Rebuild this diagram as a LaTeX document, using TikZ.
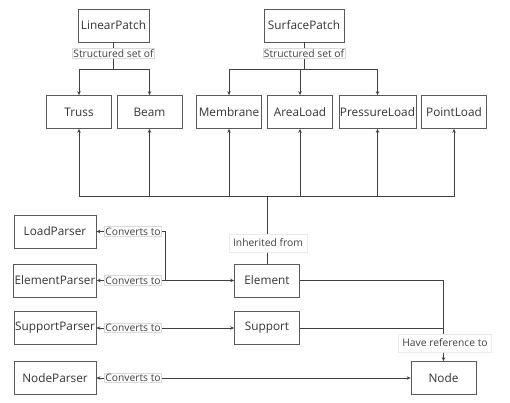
\documentclass[tikz,border=0pt]{standalone}
\usepackage{fontspec}
\setmainfont{Open Sans}
\usetikzlibrary{arrows.meta}

\tikzset{
  cls/.style={draw=black!65,text=black!80,minimum width=65,minimum height=33,
    inner sep=1pt,font=\fontsize{11.8}{13}\selectfont},
  lbl/.style={draw=black!15,fill=white,text=black!75,inner sep=1pt,
    font=\fontsize{10.3}{12}\selectfont},
  lblwide/.style={lbl,draw=black!8,inner xsep=4pt,inner ysep=5pt}
}

\begin{document}
\begin{tikzpicture}[x=1pt,y=-1pt,line width=0.7pt,draw=black!75,
  >={Stealth[length=4pt,width=3.5pt]}]
\useasboundingbox (0,0) rectangle (510,403);

% patches
\node[cls,minimum width=71] (linpatch) at (113.5,25.5) {LinearPatch};
\node[cls,minimum width=80] (surfpatch) at (304,25.5) {SurfacePatch};

% element types
\node[cls] (truss) at (79,112) {Truss};
\node[cls] (beam) at (149.5,112) {Beam};
\node[cls] (membrane) at (229,112) {Membrane};
\node[cls] (areaload) at (300,112) {AreaLoad};
\node[cls,minimum width=77] (pressload) at (377.5,112) {PressureLoad};
\node[cls] (pointload) at (454,112) {PointLoad};

% model classes
\node[cls] (element) at (267,280.5) {Element};
\node[cls] (support) at (267,328) {Support};
\node[cls] (node) at (443.5,378) {Node};

% parsers
\node[cls,minimum width=82] (loadparser) at (55,231.5) {LoadParser};
\node[cls,minimum width=82] (elemparser) at (55,280.5) {ElementParser};
\node[cls,minimum width=82] (suppparser) at (55,328) {SupportParser};
\node[cls,minimum width=82] (nodeparser) at (55,378) {NodeParser};

\coordinate (lpfork) at (113.5,69);
\coordinate (spfork) at (304,69);
\coordinate (inhfork) at (267,196);
\coordinate (loadbend) at (165,280.5);

% structured sets
\draw (linpatch) -- (lpfork);
\draw[->] (lpfork) -| (truss);
\draw[->] (lpfork) -| (beam);
\node[lbl] (lpset) at (113.5,53.5) {Structured set of};

\draw (surfpatch) -- (spfork);
\draw[->] (spfork) -| (membrane);
\draw[->] (spfork) -| (areaload);
\draw[->] (spfork) -| (pressload);
\node[lbl] (spset) at (304,53.5) {Structured set of};

% inheritance
\foreach \n in {truss,beam,membrane,areaload,pressload,pointload}
  \draw[->] (inhfork) -| (\n);
\draw (element) -- (inhfork);
\node[lblwide] (inhlbl) at (268,243) {Inherited from};

% references
\draw[->] (element) -| (node);
\draw (support.east) -- (support.east -| node.north);
\node[lblwide] (reflbl) at (445,343) {Have reference to};

% conversions
\draw[->] (loadbend) |- (loadparser);
\draw[<->] (elemparser) -- (element);
\draw[<->] (suppparser) -- (support);
\draw[<->] (nodeparser) -- (node);
\foreach \y/\n in {231.5/cvload,280.5/cvelem,328/cvsupp,378/cvnode}
  \node[lbl] (\n) at (133,\y) {Converts to};

\end{tikzpicture}
\end{document}
